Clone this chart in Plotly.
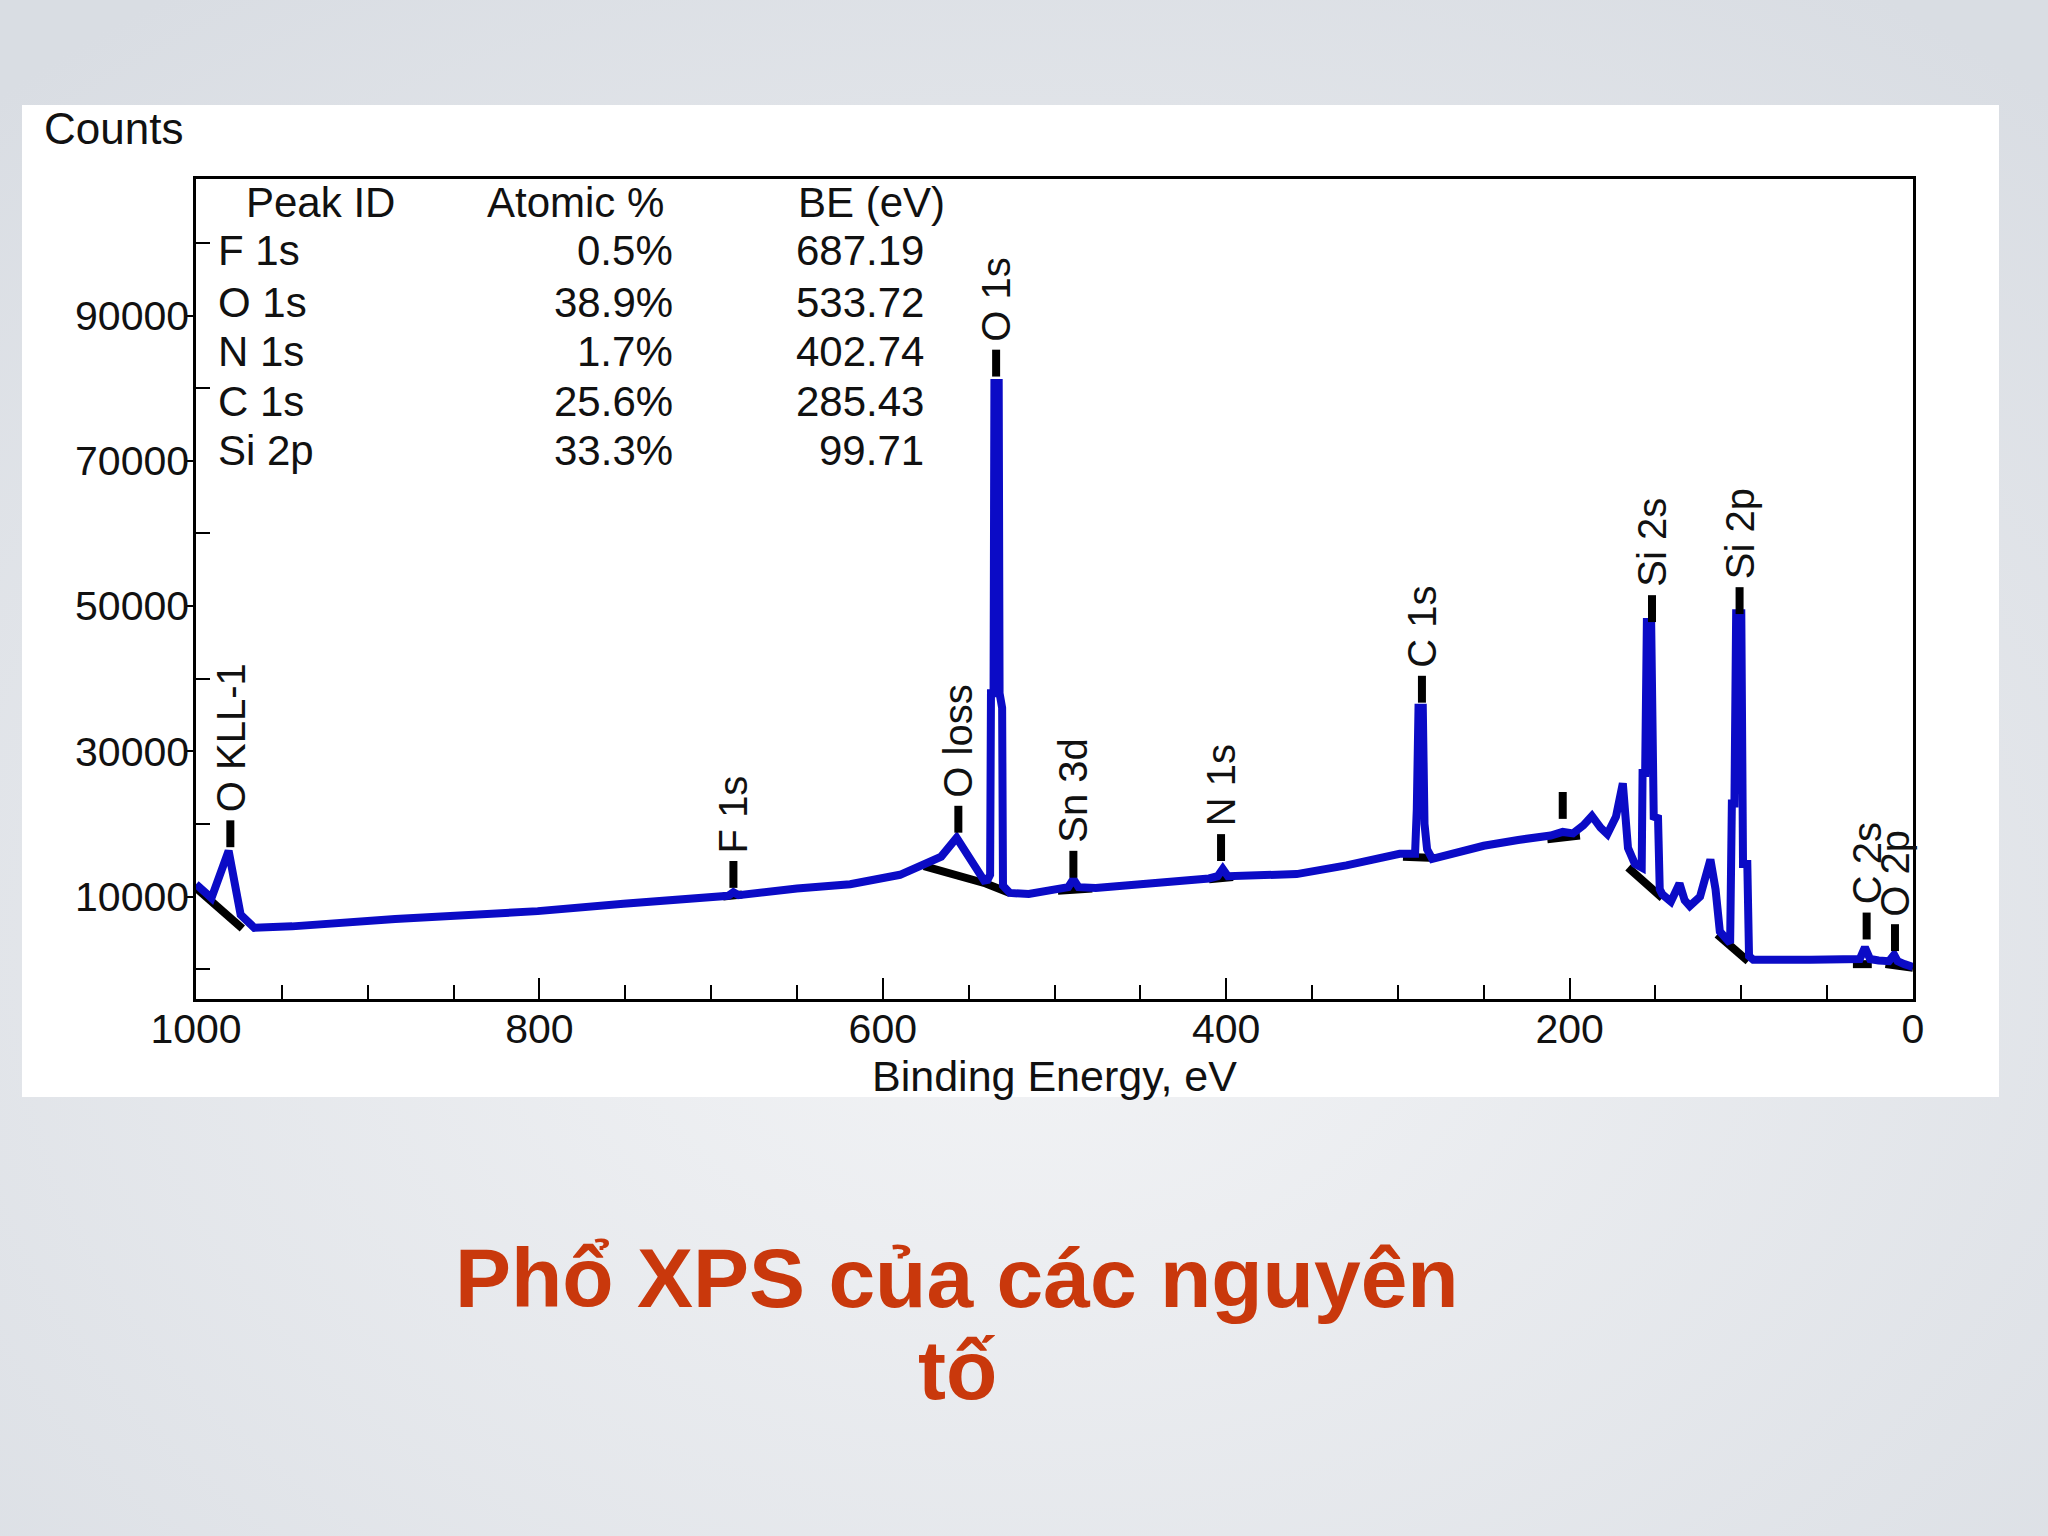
import base64
import plotly.graph_objects as go

# ---------------- data ----------------
be = [1000, 991, 981, 974, 966, 944, 884, 801, 751, 700, 690, 687, 684, 650, 619, 590,
      575, 566, 557, 548, 541, 539, 537.5, 537, 535.5, 535, 532.5, 532, 530.5, 530, 526,
      515, 492, 489, 486, 476, 437, 410, 405, 402, 399, 380, 359, 330, 299,
      290, 289, 288, 285.5, 284.5, 283, 280, 250, 230, 211, 204, 198, 192, 187, 182, 178,
      173, 169, 166, 162, 158, 157.5, 156, 155, 152.5, 151, 148.5, 147.5, 146, 141, 136,
      133, 130, 124, 118, 115, 112.5, 108, 106.5, 105.5, 104, 103, 100, 99, 96.5, 95.5,
      93, 60, 34, 31, 28, 25, 20, 14, 11, 9, 5, 0]
counts = [11700, 9800, 16300, 7500, 5700, 5900, 6900, 8000, 9000, 9900, 10100, 10600, 10200, 11100, 11700, 13000,
          14500, 15500, 18100, 14500, 12200, 12300, 13000, 38000, 38000, 80700, 80700, 38000, 36000, 11500, 10500,
          10350, 11300, 12400, 11300, 11200, 11900, 12500, 12800, 13800, 12800, 12900, 13100, 14300, 15900,
          15900, 22000, 36000, 36000, 20000, 16500, 15200, 17000, 17800, 18400, 18900, 18700, 19800, 21100, 19500, 18600,
          21000, 25600, 16700, 14500, 14000, 27000, 27000, 47800, 47800, 21000, 20800, 11000, 10300, 9300, 11800,
          9500, 8700, 10000, 15100, 11000, 5200, 4000, 3600, 22800, 22800, 49000, 49000, 14500, 14500, 1800,
          1300, 1300, 1300, 1400, 3000, 1400, 1200, 1100, 2000, 1100, 700, 300]

# background (Shirley) segments, separated by None
bkg_be = [1000, 973, None, 693, 682, None, 576, 557, 540, 526, None, 498, 478, None,
          410, 396, None, 297, 278, None, 213, 194, None, 166, 146, None, 114, 96, None,
          35, 24, None, 16, 0]
bkg_counts = [11200, 5600, None, 10000, 10300, None, 14200, 13000, 11800, 10500, None, 10800, 11100, None,
              12400, 12700, None, 15500, 15300, None, 17900, 18400, None, 14000, 9800, None, 4800, 1100, None,
              700, 700, None, 700, 200]

peak_names = ["O KLL-1", "F 1s", "O loss", "O 1s", "Sn 3d", "N 1s", "C 1s", "", "Si 2s", "Si 2p", "C 2s", "O 2p"]
peak_be = [980, 687, 556, 534, 489, 403, 286, 204, 152, 101, 27, 10.5]
peak_mark_base = [16800, 11200, 18800, 81600, 12600, 14900, 36700, 20700, 47800, 48900, 4100, 2500]
mark_len = 3700

table_ids = ["F 1s", "O 1s", "N 1s", "C 1s", "Si 2p"]
table_atomic = ["0.5%", "38.9%", "1.7%", "25.6%", "33.3%"]
table_be = ["687.19", "533.72", "402.74", "285.43", "99.71"]

y_major = [10000, 30000, 50000, 70000, 90000]
y_minor = [0, 20000, 40000, 60000, 80000, 100000]
x_major = [1000, 800, 600, 400, 200, 0]
x_minor = [950, 900, 850, 750, 700, 650, 550, 500, 450, 350, 300, 250, 150, 100, 50]

# ---------------- layout geometry (pixels) ----------------
W, H = 2048, 1536
L, R, T, B = 196, 135, 179, 537
PW, PH = W - L - R, H - T - B


def px(xp):
    return (xp - L) / PW


def py(yp):
    return (T + PH - yp) / PH


FONT = "Liberation Sans, Arial, sans-serif"
BLUE = "#0b0bc6"
INK = "#111111"

fig = go.Figure()

fig.add_trace(go.Scatter(x=bkg_be, y=bkg_counts, mode="lines",
                         line=dict(color="black", width=8), hoverinfo="skip",
                         connectgaps=False, showlegend=False))
fig.add_trace(go.Scatter(x=be, y=counts, mode="lines",
                         line=dict(color=BLUE, width=8), showlegend=False))

# peak marker bars
mx, my = [], []
for xb, yb in zip(peak_be, peak_mark_base):
    mx += [xb, xb, None]
    my += [yb, yb + mark_len, None]
fig.add_trace(go.Scatter(x=mx, y=my, mode="lines", line=dict(color="black", width=8),
                         hoverinfo="skip", showlegend=False))

annotations = []
for name, xb, yb in zip(peak_names, peak_be, peak_mark_base):
    if not name:
        continue
    annotations.append(dict(x=xb, y=yb + mark_len, xref="x", yref="y", text=name,
                            textangle=-90, showarrow=False, xanchor="center", yanchor="bottom",
                            yshift=6, font=dict(family=FONT, size=40, color=INK)))

# table
row_y = [251, 302, 351, 401, 451]
tfont = dict(family=FONT, size=42, color=INK)
annotations.append(dict(x=px(320), y=py(202), xref="paper", yref="paper", text="Peak ID",
                        showarrow=False, xanchor="center", yanchor="middle", font=tfont))
annotations.append(dict(x=px(575), y=py(202), xref="paper", yref="paper", text="Atomic %",
                        showarrow=False, xanchor="center", yanchor="middle", font=tfont))
annotations.append(dict(x=px(871), y=py(202), xref="paper", yref="paper", text="BE (eV)",
                        showarrow=False, xanchor="center", yanchor="middle", font=tfont))
for ry, pid, at, bv in zip(row_y, table_ids, table_atomic, table_be):
    annotations.append(dict(x=px(216), y=py(ry), xref="paper", yref="paper", text=pid,
                            showarrow=False, xanchor="left", yanchor="middle", font=tfont))
    annotations.append(dict(x=px(675), y=py(ry), xref="paper", yref="paper", text=at,
                            showarrow=False, xanchor="right", yanchor="middle", font=tfont))
    annotations.append(dict(x=px(926), y=py(ry), xref="paper", yref="paper", text=bv,
                            showarrow=False, xanchor="right", yanchor="middle", font=tfont))

# y title "Counts"
annotations.append(dict(x=px(42), y=py(129), xref="paper", yref="paper", text="Counts",
                        showarrow=False, xanchor="left", yanchor="middle",
                        font=dict(family=FONT, size=44, color=INK)))

# slide title
TITLE_COLOR = "#c9380c"
annotations.append(dict(x=px(957), y=py(1278), xref="paper", yref="paper",
                        text="<b>Phổ XPS của các nguyên</b>", showarrow=False,
                        xanchor="center", yanchor="middle",
                        font=dict(family=FONT, size=84, color=TITLE_COLOR)))
annotations.append(dict(x=px(957), y=py(1370), xref="paper", yref="paper",
                        text="<b>tố</b>", showarrow=False,
                        xanchor="center", yanchor="middle",
                        font=dict(family=FONT, size=84, color=TITLE_COLOR)))

# background gradient image + white panel
svg = ('<svg xmlns="http://www.w3.org/2000/svg" width="2048" height="1536">'
       '<defs><radialGradient id="g" cx="50%" cy="62%" r="75%">'
       '<stop offset="0" stop-color="#f3f4f6"/><stop offset="1" stop-color="#d9dde3"/>'
       '</radialGradient></defs><rect width="2048" height="1536" fill="url(#g)"/></svg>')
src = "data:image/svg+xml;base64," + base64.b64encode(svg.encode()).decode()

fig.update_layout(
    width=W, height=H,
    margin=dict(l=L, r=R, t=T, b=B, pad=0),
    paper_bgcolor="#e8eaee",
    plot_bgcolor="white",
    showlegend=False,
    annotations=annotations,
    images=[dict(source=src, xref="paper", yref="paper", x=px(0), y=py(0),
                 sizex=W / PW, sizey=H / PH, xanchor="left", yanchor="top",
                 sizing="stretch", layer="below")],
    shapes=[dict(type="rect", xref="paper", yref="paper", x0=px(22), x1=px(1999),
                 y0=py(1097), y1=py(105), fillcolor="white", line=dict(width=0), layer="below")],
    xaxis=dict(range=[1000, 0], showgrid=False, zeroline=False,
               showline=True, linecolor="black", linewidth=2.5, mirror=True,
               tickmode="array", tickvals=x_major, ticks="inside", ticklen=21, tickwidth=2,
               tickcolor="black", ticklabelstandoff=-8,
               minor=dict(tickmode="array", tickvals=x_minor, ticks="inside", ticklen=14,
                          tickwidth=2, tickcolor="black"),
               tickfont=dict(family=FONT, size=41, color=INK),
               title=dict(text="Binding Energy, eV", standoff=3,
                          font=dict(family=FONT, size=43, color=INK))),
    yaxis=dict(range=[-4100, 108800], showgrid=False, zeroline=False,
               showline=True, linecolor="black", linewidth=2.5, mirror=True,
               tickmode="array", tickvals=y_major, tickformat="d", ticks="outside",
               ticklen=8, tickwidth=2, tickcolor="black", ticklabelstandoff=-12,
               minor=dict(tickmode="array", tickvals=y_minor, ticks="inside", ticklen=14,
                          tickwidth=2, tickcolor="black"),
               tickfont=dict(family=FONT, size=41, color=INK)),
)

fig.write_html("out.html", config={"displayModeBar": False},
               post_script="document.body.style.margin='0';document.body.style.overflow='hidden';")
